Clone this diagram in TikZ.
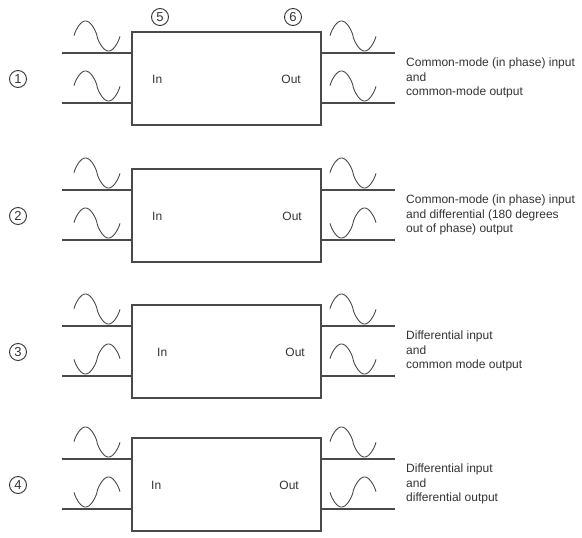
\documentclass[tikz,border=0pt]{standalone}
\usepackage{fontspec}
\setmainfont{Liberation Sans}
\usetikzlibrary{positioning, calc}
\definecolor{wire}{HTML}{4A4A4A}
\definecolor{ink}{HTML}{333333}
\tikzset{
    wave/.pic = {
    \draw[wavepen, yscale = #1]
      plot[domain=0.05:22.95, samples=30, smooth] (\x, {-15*pow(sin(\x/46*360),0.75)})
      -- plot[domain=23.05:45.95, samples=30, smooth] (\x, {15*pow(-sin(\x/46*360),0.75)});
    },
    wavepen/.style={draw=wire, line width=0.9pt},
    wireline/.style={draw=wire, line width=1.3pt},
    box/.style={draw=wire, line width=1.5pt, minimum width=189pt, minimum height=93pt, inner sep=0pt},
    numcirc/.style={circle, draw=ink, line width=0.9pt, minimum size=17pt, inner sep=0pt, text=ink, font=\fontsize{13}{13}\selectfont},
    lbl/.style={inner sep=0pt, text=ink, font=\fontsize{12}{14}\selectfont},
    desc/.style={inner sep=0pt, anchor=west, align=left, text=ink, font=\fontsize{12}{14.5}\selectfont},
}

\begin{document}
\begin{tikzpicture}[x=1pt, y=-1pt]
    \useasboundingbox (0,0) rectangle (582,538);

    \node[numcirc] (num5) at (160,17) {5};
    \node[numcirc] (num6) at (293,17) {6};

    \foreach \n/\yt/\ix/\ox/\lb/\rb/\txt in {
      1/32/152/301/1/1/{Common-mode (in phase) input\\and\\common-mode output},
      2/169/152/302/1/-1/{Common-mode (in phase) input\\and differential (180 degrees\\out of phase) output},
      3/305/157/305/-1/1/{Differential input\\and\\common mode output},
      4/438/151/299/-1/-1/{Differential input\\and\\differential output}} {
      \node[box] (box\n) at (226.5, \yt+46.5) {};
      \node[numcirc] (num\n) at (18, \yt+47) {\n};
      \node[lbl, anchor=west] (in\n) at (\ix, \yt+47) {In};
      \node[lbl, anchor=east] (out\n) at (\ox, \yt+47) {Out};
      \node[desc] (txt\n) at (406, \yt+46) {\txt};

      \coordinate (ia\n) at (62, \yt+21);
      \coordinate (ib\n) at (62, \yt+71);
      \coordinate (oa\n) at (395, \yt+21);
      \coordinate (ob\n) at (395, \yt+71);
      \draw[wireline] (ia\n) -- (ia\n -| box\n.west);
      \draw[wireline] (ib\n) -- (ib\n -| box\n.west);
      \draw[wireline] (box\n.east |- oa\n) -- (oa\n);
      \draw[wireline] (box\n.east |- ob\n) -- (ob\n);

      \pic at (74, \yt+4) {wave=1};
      \pic at (74, \yt+54) {wave=\lb};
      \pic at (330, \yt+4) {wave=1};
      \pic at (330, \yt+54) {wave=\rb};
    }
\end{tikzpicture}
\end{document}
